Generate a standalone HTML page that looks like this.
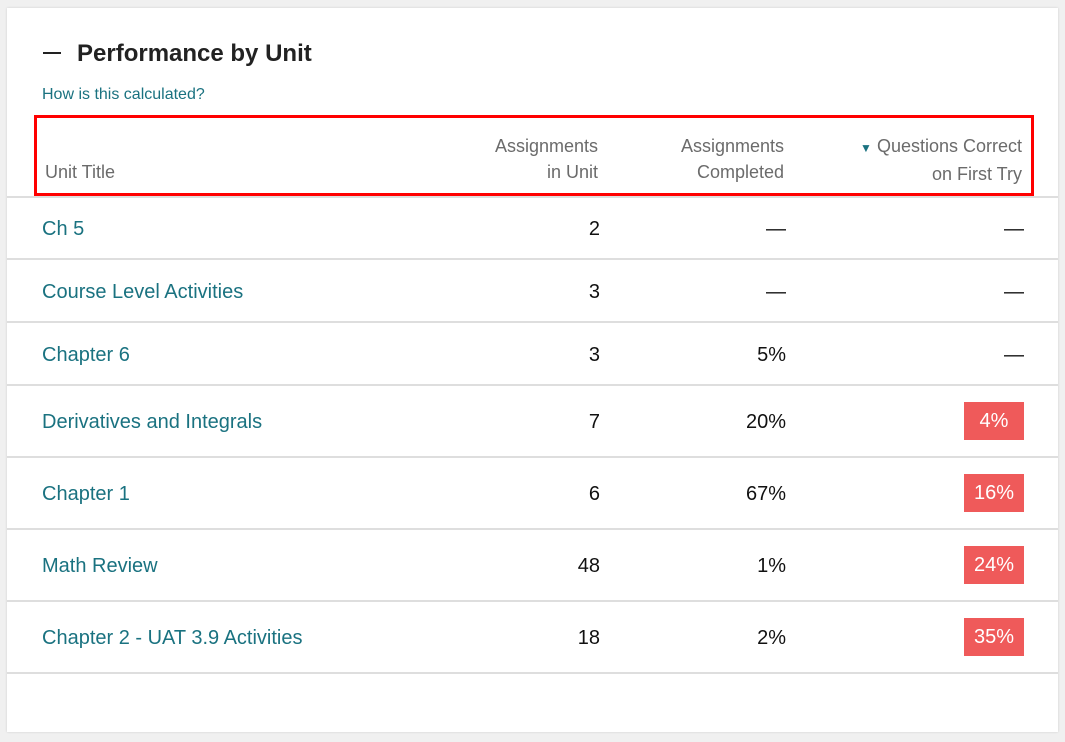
<!DOCTYPE html>
<html><head><style>
body{margin:0;width:1065px;height:742px;background:#f0f0f0;font-family:"Liberation Sans",sans-serif;position:relative;overflow:hidden}
.card{position:absolute;left:7px;top:8px;width:1051px;height:724px;background:#fff;box-shadow:0 0 2px #ccc}
.a{position:absolute;white-space:nowrap}
.line{position:absolute;left:7px;width:1051px;height:2px;background:#dedede}
.t{color:#1a7280;font-size:20px;left:42px}
.n{font-size:20px;color:#111;text-align:right}
.h{font-size:18px;color:#6b6b6b;text-align:right;line-height:26px}
.b{position:absolute;left:964px;width:60px;height:38px;background:#ef5a5a;color:#fff;font-size:20px;text-align:center;line-height:38px}
</style></head><body>
<div class="card"></div>
<div class="a" style="left:43px;top:52px;width:18px;height:2px;background:#222"></div>
<div class="a" style="left:77px;top:40px;font-size:24px;font-weight:bold;color:#222">Performance by Unit</div>
<div class="a" style="left:42px;top:86px;font-size:16px;color:#1a7280">How is this calculated?</div>
<div class="a" style="left:34px;top:115px;width:994px;height:75px;border:3px solid #f00"></div>
<div class="a h" style="left:45px;top:159px;text-align:left">Unit Title</div>
<div class="a h" style="right:467px;top:133px">Assignments<br>in Unit</div>
<div class="a h" style="right:281px;top:133px">Assignments<br>Completed</div>
<div class="a h" style="right:43px;top:133px"><span style="font-size:12px;color:#1a7280">&#9660;</span> Questions Correct<br>on First Try</div>
<div class="line" style="top:196px"></div>
<div class="line" style="top:258px"></div>
<div class="line" style="top:321px"></div>
<div class="line" style="top:384px"></div>
<div class="line" style="top:456px"></div>
<div class="line" style="top:528px"></div>
<div class="line" style="top:600px"></div>
<div class="line" style="top:672px"></div>

<div class="a t" style="top:218px">Ch 5</div>
<div class="a n" style="right:465px;top:218px">2</div>
<div class="a n" style="right:279px;top:218px">—</div>
<div class="a n" style="right:41px;top:218px">—</div>

<div class="a t" style="top:281px">Course Level Activities</div>
<div class="a n" style="right:465px;top:281px">3</div>
<div class="a n" style="right:279px;top:281px">—</div>
<div class="a n" style="right:41px;top:281px">—</div>

<div class="a t" style="top:344px">Chapter 6</div>
<div class="a n" style="right:465px;top:344px">3</div>
<div class="a n" style="right:279px;top:344px">5%</div>
<div class="a n" style="right:41px;top:344px">—</div>

<div class="a t" style="top:411px">Derivatives and Integrals</div>
<div class="a n" style="right:465px;top:411px">7</div>
<div class="a n" style="right:279px;top:411px">20%</div>
<div class="b" style="top:402px">4%</div>

<div class="a t" style="top:483px">Chapter 1</div>
<div class="a n" style="right:465px;top:483px">6</div>
<div class="a n" style="right:279px;top:483px">67%</div>
<div class="b" style="top:474px">16%</div>

<div class="a t" style="top:555px">Math Review</div>
<div class="a n" style="right:465px;top:555px">48</div>
<div class="a n" style="right:279px;top:555px">1%</div>
<div class="b" style="top:546px">24%</div>

<div class="a t" style="top:627px">Chapter 2 - UAT 3.9 Activities</div>
<div class="a n" style="right:465px;top:627px">18</div>
<div class="a n" style="right:279px;top:627px">2%</div>
<div class="b" style="top:618px">35%</div>
</body></html>
